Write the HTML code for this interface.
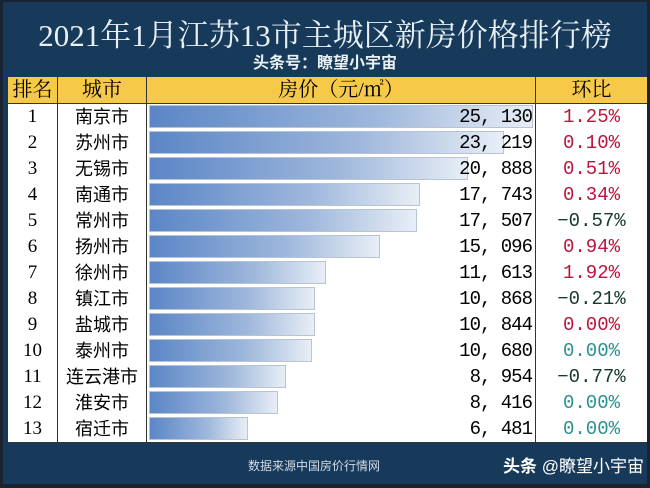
<!DOCTYPE html>
<html><head><meta charset="utf-8"><style>
body{margin:0;width:650px;height:488px;background:#1a2430;overflow:hidden;font-family:"Liberation Serif","Noto Serif CJK SC",serif}
#wrap{position:absolute;left:3px;top:2px;width:644px;height:482px;background:#173a5a}
.title{position:absolute;left:0;width:644px;text-align:center;color:#e8f0f4}
.row{position:absolute;left:5px;width:639px;height:26px;background:#fff;border-bottom:1px solid #333}
.c{position:absolute;top:0;height:26px;line-height:26px;font-size:19px;text-align:center;border-right:1px solid #333;box-sizing:border-box}
.bar{position:absolute;left:2px;top:1px;height:23px;background:linear-gradient(90deg,#5b86c6,#9fb8dc 60%,#e8eef6);border:1px solid #b8c4d2;box-sizing:border-box}
.val{position:absolute;right:3px;top:0;font-size:19px;font-family:"Liberation Mono",monospace;letter-spacing:-1px}
.chg{font-family:"Liberation Mono",monospace;font-size:19px}
</style></head><body>
<div id="wrap">
<div class="title" style="top:8px;font-size:31px;font-family:'Liberation Serif','Noto Serif CJK SC',serif">2021年1月江苏13市主城区新房价格排行榜</div>
<div class="title" style="top:47px;font-size:16px;font-weight:bold;font-family:'Liberation Sans','Noto Sans CJK SC',sans-serif">头条号：瞭望小宇宙</div>
<div class="row" style="top:75px;background:#f7c948;height:26px">
<div class="c" style="left:0;width:50px;font-size:20px">排名</div>
<div class="c" style="left:50px;width:89px;font-size:20px">城市</div>
<div class="c" style="left:139px;width:389px;font-size:20px">房价（元/㎡）</div>
<div class="c" style="left:528px;width:111px;border-right:none;font-size:20px">环比</div>
</div>
<div id="rows"></div>
<div style="position:absolute;left:245px;top:455px;color:#d0dbe6;font-size:12px;font-family:'Liberation Sans','Noto Sans CJK SC',sans-serif">数据来源中国房价行情网</div>
<div style="position:absolute;left:500px;top:450px;color:#fff;font-size:17px;font-family:'Liberation Sans','Noto Sans CJK SC',sans-serif"><b>头条</b> @瞭望小宇宙</div>
</div>
<script>
const cities=["南京市","苏州市","无锡市","南通市","常州市","扬州市","徐州市","镇江市","盐城市","泰州市","连云港市","淮安市","宿迁市"];
const prices=[25130,23219,20888,17743,17507,15096,11613,10868,10844,10680,8954,8416,6481];
const changes=["1.25%","0.10%","0.51%","0.34%","-0.57%","0.94%","1.92%","-0.21%","0.00%","0.00%","-0.77%","0.00%","0.00%"];
const changeColors=["red","red","red","red","neg","red","red","neg","red","zero","neg","zero","zero"];
const colorMap={red:"#b8163c",neg:"#163a2a",zero:"#2a9090"};
const maxV=25130,barW=384;
const root=document.getElementById('rows');
prices.forEach((v,i)=>{
 const r=document.createElement('div');r.className='row';r.style.top=(102+i*26)+'px';
 
 
 const w=v/maxV*barW;
 r.innerHTML=`<div class="c" style="left:0;width:50px">${i+1}</div><div class="c" style="left:50px;width:89px;font-family:'Liberation Sans','Noto Sans CJK SC',sans-serif;font-size:18px">${cities[i]}</div><div class="c" style="left:139px;width:389px"><div class="bar" style="width:${w}px"></div><span class="val">${v.toLocaleString('en-US').replace(',',', ')}</span></div><div class="c chg" style="left:528px;width:111px;border-right:none;color:${colorMap[changeColors[i]]}">${changes[i].replace('-','−')}</div>`;
 root.appendChild(r);
 const b=r.querySelector('.bar');
 
 
});
</script>
</body></html>
